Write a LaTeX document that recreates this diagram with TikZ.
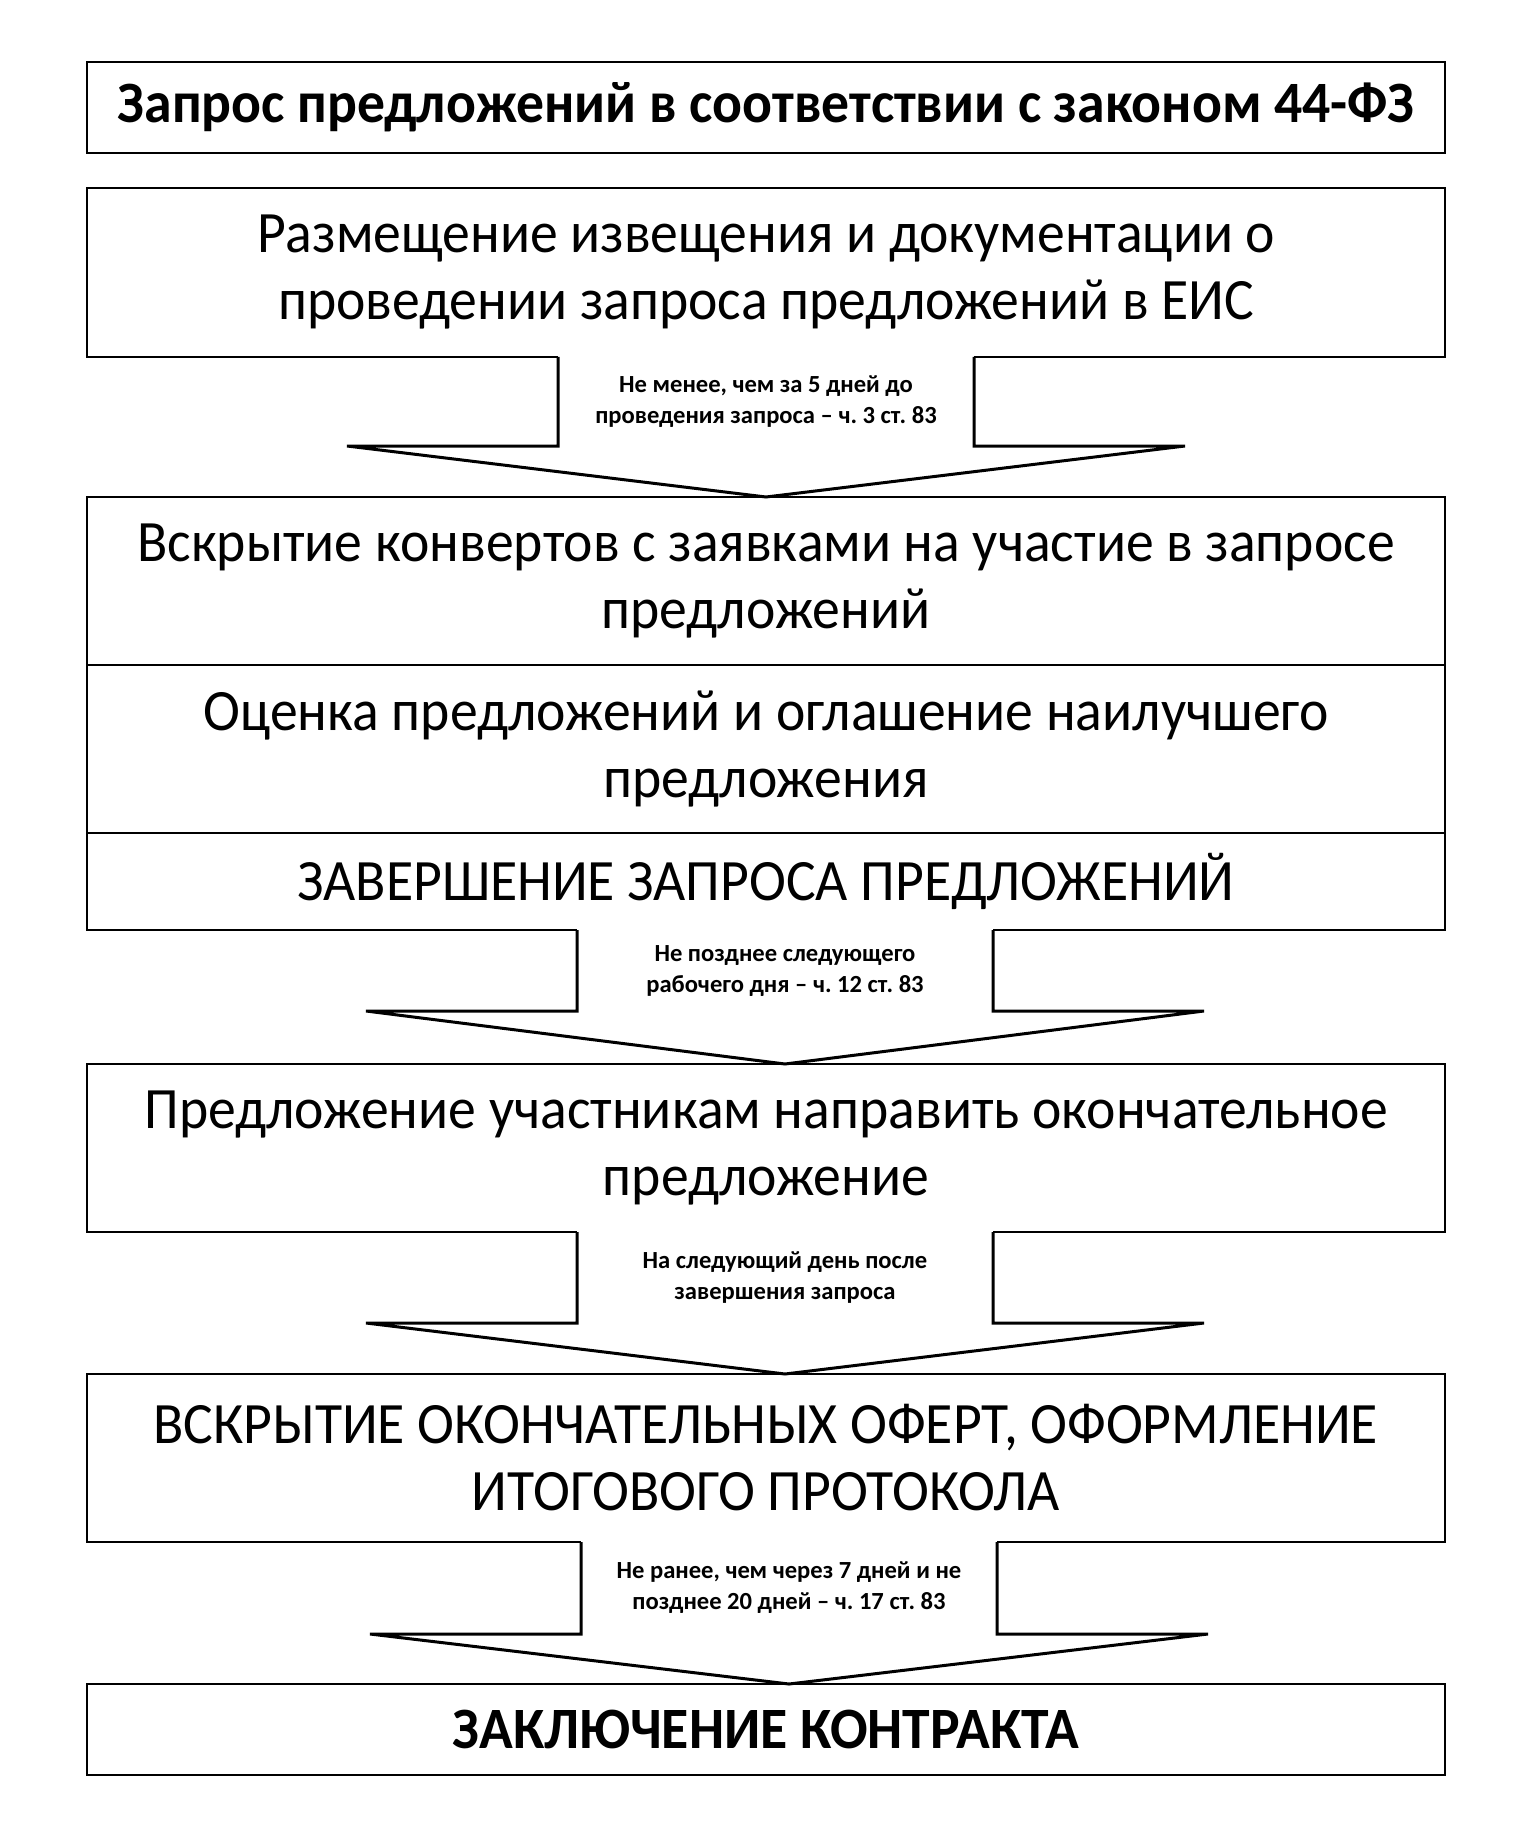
\documentclass[tikz,border=0pt]{standalone}
\usepackage{fontspec}
\setmainfont{Carlito}
\newfontfamily\stagefamily{Carlito}[FakeStretch=0.95]
\usepackage{tikz}
\usetikzlibrary{positioning,calc}
\frenchspacing
\newcommand{\stagefont}{\stagefamily\fontsize{29.3}{33.5}\selectfont}
\newcommand{\notefont}{\fontsize{12.3}{15.5}\selectfont\bfseries}
% block arrow between two stage boxes: upper, lower, base point, note name, note text
\newcommand{\stagearrow}[5]{%
  \fill[white] ($(#3|-#1.south)+(-208,-4)$) rectangle ($(#3)+(208,0)$);
  \draw[arrowline] ($(#3|-#1.south)+(-208,0)$) -- ($(#3)+(-208,0)$) -- ($(#3)+(-419,0)$)
    -- (#3|-#2.north) -- ($(#3)+(419,0)$) -- ($(#3)+(208,0)$) -- ($(#3|-#1.south)+(208,0)$);
  \node[notetext] (#4) at ($(#3|-#1.south)!0.5!(#3)$) {#5};
}
\tikzset{
        % Stage boxes
        stagebox/.style={draw, line width=1.4pt, inner sep=0pt, outer sep=0pt, align=center, anchor=north, minimum width=679pt, font=\stagefont},
        % Title boxes
        titlebox/.style={stagebox, font=\stagefont\bfseries},
        % Block arrows
        arrowline/.style={line width=1.5pt, line join=miter},
        % Notes inside arrows
        notetext/.style={align=center, inner sep=0pt, font=\notefont}
}

\begin{document}
\begin{tikzpicture}[x=0.5pt, y=-0.5pt]
    \useasboundingbox (0,0) rectangle (1526,1824);
    \node[titlebox, minimum height=45.5pt] (title) at (766,62) {Запрос предложений в соответствии с законом 44-ФЗ};
    \node[stagebox, minimum height=84.5pt] (post) at (766,188) {Размещение извещения и документации о\\проведении запроса предложений в ЕИС};
    \node[stagebox, minimum height=84pt] (open) at (766,497) {Вскрытие конвертов с заявками на участие в запросе\\предложений};
    \node[stagebox, minimum height=84pt] (rate) at (open.south) {Оценка предложений и оглашение наилучшего\\предложения};
    \node[stagebox, minimum height=48.5pt] (finish) at (rate.south) {ЗАВЕРШЕНИЕ ЗАПРОСА ПРЕДЛОЖЕНИЙ};
    \node[stagebox, minimum height=84pt] (offer) at (766,1064) {Предложение участникам направить окончательное\\предложение};
    \node[stagebox, minimum height=84pt] (final) at (766,1374) {ВСКРЫТИЕ ОКОНЧАТЕЛЬНЫХ ОФЕРТ, ОФОРМЛЕНИЕ\\ИТОГОВОГО ПРОТОКОЛА};
    \node[titlebox, minimum height=45.5pt] (contract) at (766,1684) {ЗАКЛЮЧЕНИЕ КОНТРАКТА};

    \coordinate (base1) at (766,446);
    \coordinate (base2) at (785,1011);
    \coordinate (base3) at (785,1323);
    \coordinate (base4) at (789,1634);
    \stagearrow{post}{open}{base1}{note1}{Не менее, чем за 5 дней до\\проведения запроса – ч. 3 ст. 83}
    \stagearrow{finish}{offer}{base2}{note2}{Не позднее следующего\\рабочего дня – ч. 12 ст. 83}
    \stagearrow{offer}{final}{base3}{note3}{На следующий день после\\завершения запроса}
    \stagearrow{final}{contract}{base4}{note4}{Не ранее, чем через 7 дней и не\\позднее 20 дней – ч. 17 ст. 83}
\end{tikzpicture}
\end{document}
